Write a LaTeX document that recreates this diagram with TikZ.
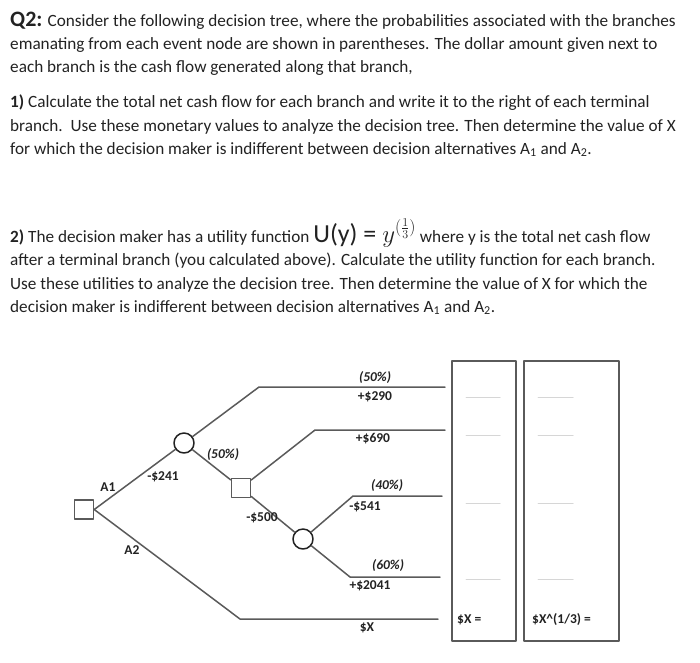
\documentclass[tikz,border=0pt]{standalone}
\usepackage{fontspec}
\setmainfont{Carlito}
\usetikzlibrary{positioning}
\definecolor{linegray}{HTML}{5A5A5A}
\definecolor{inkgray}{HTML}{222222}
\definecolor{faintgray}{HTML}{D6D6D6}
\tikzset{
  decnode/.style = {draw=linegray, line width=1.5pt, rectangle, minimum size=19pt, inner sep=0},
  chancenode/.style = {draw=inkgray, line width=1.5pt, circle, minimum size=20pt, inner sep=0},
  branch/.style = {draw=linegray, line width=1.5pt},
  lbl/.style = {inner sep=0, text=inkgray, font=\fontsize{13.5}{15}\selectfont\bfseries},
  prob/.style = {lbl, font=\fontsize{13.5}{15}\selectfont\bfseries\itshape},
  txt/.style = {anchor=base west, inner sep=0, text=inkgray, font=\fontsize{17.2}{20}\selectfont},
  answerbox/.style = {draw=linegray, line width=1.2pt},
  faint/.style = {draw=faintgray, line width=1pt}
}

\begin{document}
\begin{tikzpicture}[x=1pt, y=-1pt, line cap=round, line join=round]
  \useasboundingbox (0,0) rectangle (700,662);

  % question text
  \node[txt] (q1) at (10,26) {{\fontsize{22}{23}\selectfont\bfseries Q2:} Consider the following decision tree, where the probabilities associated with the branches};
  \node[txt] (q2) at (10,49.5) {emanating from each event node are shown in parentheses. The dollar amount given next to};
  \node[txt] (q3) at (10,72.5) {each branch is the cash flow generated along that branch,};
  \node[txt] (p1) at (10,107) {{\bfseries 1)} Calculate the total net cash flow for each branch and write it to the right of each terminal};
  \node[txt] (p2) at (10,131) {branch.\ \ Use these monetary values to analyze the decision tree. Then determine the value of X};
  \node[txt] (p3) at (10,154) {for which the decision maker is indifferent between decision alternatives A\textsubscript{1} and A\textsubscript{2}.};
  \node[txt] (u1) at (10,242) {{\bfseries 2)} The decision maker has a utility function {\fontsize{26}{28}\selectfont U(y) = $y^{(\frac{1}{3})}$} where y is the total net cash flow};
  \node[txt] (u2) at (10,265.5) {after a terminal branch (you calculated above). Calculate the utility function for each branch.};
  \node[txt] (u3) at (10,289) {Use these utilities to analyze the decision tree. Then determine the value of X for which the};
  \node[txt] (u4) at (10,312) {decision maker is indifferent between decision alternatives A\textsubscript{1} and A\textsubscript{2}.};

  % tree nodes
  \node[decnode] (d1) at (84,509.5) {};
  \node[chancenode] (c1) at (184,443) {};
  \node[decnode] (d2) at (241,488) {};
  \node[chancenode] (c2) at (303,539) {};

  % branch knees and ends
  \coordinate (k1) at (259,387);  \coordinate (e1) at (445,387);
  \coordinate (k2) at (315,430);  \coordinate (e2) at (445,430);
  \coordinate (k3) at (353,496);  \coordinate (e3) at (442,496);
  \coordinate (k4) at (350,577);  \coordinate (e4) at (440,577);
  \coordinate (k5) at (240,619);  \coordinate (e5) at (438,619);

  \draw[branch] (d1.east) -- (c1);
  \draw[branch] (d1.east) -- (k5) -- (e5);
  \draw[branch] (c1) -- (k1) -- (e1);
  \draw[branch] (c1) -- (d2);
  \draw[branch] (d2) -- (k2) -- (e2);
  \draw[branch] (d2) -- (c2);
  \draw[branch] (c2) -- (k3) -- (e3);
  \draw[branch] (c2) -- (k4) -- (e4);

  % branch labels
  \node[lbl] (la1) at (108,487) {A1};
  \node[lbl] (la2) at (132,550) {A2};
  \node[lbl] (l241) at (163,477) {-\$241};
  \node[prob] (pc1) at (223,454) {(50\%)};
  \node[lbl] (l500) at (262,518) {-\$500};
  \node[prob] (pt1) at (375,378) {(50\%)};
  \node[lbl] (l290) at (375,397) {+\$290};
  \node[lbl] (l690) at (373,439) {+\$690};
  \node[prob] (pt3) at (387,485) {(40\%)};
  \node[lbl] (l541) at (365,507) {-\$541};
  \node[prob] (pt4) at (388,565) {(60\%)};
  \node[lbl] (l2041) at (370,586) {+\$2041};
  \node[lbl] (lx) at (367,628) {\$X};

  % answer boxes
  \draw[answerbox] (452,361) rectangle (516,641);
  \draw[answerbox] (524,361) rectangle (619,641);
  \foreach \yy in {397,435,503,579} {
    \draw[faint] (466,\yy) -- (500,\yy);
    \draw[faint] (538,\yy) -- (573,\yy);
  }
  \node[lbl, anchor=west] (bx1) at (457,619.5) {\$X =};
  \node[lbl, anchor=west] (bx2) at (532,619.5) {\$X\^{}(1/3) =};
\end{tikzpicture}
\end{document}
